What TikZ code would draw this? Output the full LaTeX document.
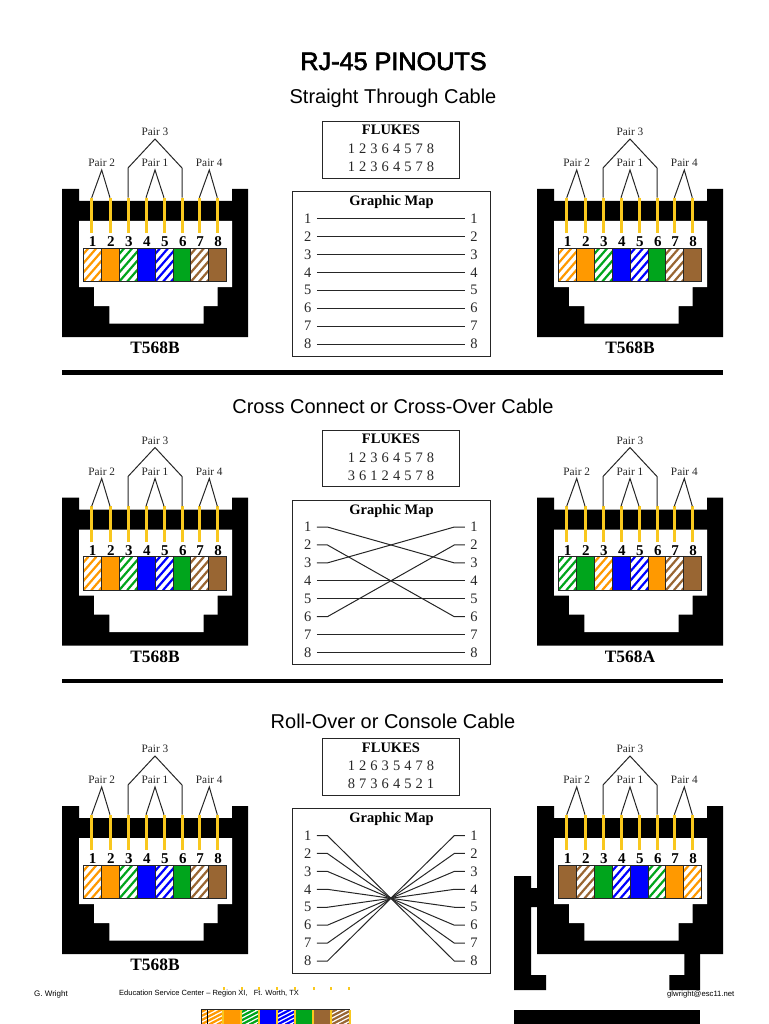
\documentclass[tikz,border=0pt]{standalone}
\usepackage{fontspec}
\setmainfont{Liberation Serif}
\setsansfont{Liberation Sans}
\newfontfamily\titlefont[FakeBold=2.5]{Liberation Sans}

\definecolor{wireorange}{HTML}{FF9900}
\definecolor{wiregreen}{HTML}{00A51C}
\definecolor{wireblue}{HTML}{0000FF}
\definecolor{wirebrown}{HTML}{996633}
\definecolor{pinyellow}{HTML}{F9C81E}

\tikzset{
	pairlabel/.style={font=\fontsize{11.3}{12}\selectfont,inner xsep=0pt,inner ysep=3pt,text=black!85},
	pinlabel/.style={font=\fontsize{15}{16}\selectfont\bfseries,inner sep=0pt},
	jacklabel/.style={font=\fontsize{17.4}{18}\selectfont\bfseries,inner sep=0pt},
	heading/.style={font=\fontsize{20}{22}\selectfont\sffamily,inner sep=0pt,anchor=base},
	boxhead/.style={font=\fontsize{14.5}{15}\selectfont\bfseries,inner sep=0pt,anchor=base},
	flukerow/.style={font=\fontsize{14.5}{15}\selectfont,inner sep=0pt,text=black!85},
	mapnum/.style={font=\fontsize{14.5}{15}\selectfont,inner sep=0pt,minimum width=18pt,text=black!85},
	footer/.style={font=\fontsize{8}{9}\selectfont\sffamily,inner sep=0pt},
	framebox/.style={draw=black!85,line width=1pt,inner sep=0pt},
	wire/.style={draw=black!85,line width=1pt},
	pairline/.style={draw=black!85,line width=1pt},
	pin/.style={draw=pinyellow,line width=3pt},
}

\newcommand{\flukedigits}[1]{\spaceskip=4.05pt\relax #1}

% x, y, width, height, colour, hatched
\newcommand{\swatch}[6]{
	\fill[white] (#1,#2) rectangle ++(#3,#4);
	\ifnum#6=1
		\begin{scope}
			\clip (#1,#2) rectangle ++(#3,#4);
			\foreach \d in {-32,-24,...,24}
				\draw[#5,line width=2.2pt] (#1+\d,#2+#4) -- ++(29,-#4);
		\end{scope}
	\else
		\fill[#5] (#1,#2) rectangle ++(#3,#4);
	\fi
	\draw[black!85,line width=0.8pt] (#1,#2) rectangle ++(#3,#4);
}

% name, x, y, colour/hatch list
\newcommand{\rjjack}[4]{
	\begin{scope}[shift={(#2,#3)}]
		\fill[black] (0,0) -- (17,0) -- (17,12) -- (170,12) -- (170,0) -- (186,0)
		  -- (186,148) -- (0,148) -- cycle; %body
		\fill[white] (17,32) -- (170,32) -- (170,98) -- (155.7,98) -- (155.7,117)
		  -- (141.7,117) -- (141.7,134.7) -- (47.3,134.7) -- (47.3,117) -- (32,117)
		  -- (32,98) -- (17,98) -- cycle; %opening
		\foreach \c/\h [count=\i from 0] in {#4} {
			\pgfmathsetmacro{\sx}{21.3+17.93*\i}
			\swatch{\sx}{59.3}{17.93}{33.4}{\c}{\h}
		}
		%pins
		\foreach \px [count=\i] in {29.7,48,66,84,102,120,137.3,155.3} {
			\coordinate (#1t\i) at (\px,8.7);
			\draw[pin] (#1t\i) -- (\px,44);
			\node[pinlabel] (#1n\i) at (\px+0.8,52.7) {\i};
		}
		%pair labels
		\node[pairlabel] (#1p2) at (39.7,-26) {Pair 2};
		\node[pairlabel] (#1p1) at (93,-26) {Pair 1};
		\node[pairlabel] (#1p4) at (147.3,-26) {Pair 4};
		\node[pairlabel] (#1p3) at (93,-57) {Pair 3};
		\draw[pairline] (#1t1) -- (#1p2.south) -- (#1t2);
		\draw[pairline] (#1t4) -- (#1p1.south) -- (#1t5);
		\draw[pairline] (#1t7) -- (#1p4.south) -- (#1t8);
		\draw[pairline] (#1t3) -- (66,-21) -- (#1p3.south) -- (120,-21) -- (#1t6);
	\end{scope}
}

% name, y offset, first row, second row, wiring
\newcommand{\cablemap}[5]{
	\begin{scope}[shift={(0,#2)}]
		\node[framebox,minimum width=137pt,minimum height=56.6pt] (#1fb) at (390.8,150) {};
		\node[boxhead] (#1ft) at (391,135) {FLUKES};
		\node[flukerow] (#1fa) at (391,149) {\flukedigits{#3}};
		\node[flukerow] (#1fc) at (391,167) {\flukedigits{#4}};
		\node[framebox,minimum width=197.6pt,minimum height=164.3pt] (#1gb) at (391.5,273.9) {};
		\node[boxhead] (#1gt) at (391.5,205.5) {Graphic Map};
		\foreach \i in {1,...,8} {
			\node[mapnum] (#1l\i) at (307.7,200.6+17.93*\i) {\i};
			\node[mapnum] (#1r\i) at (474,200.6+17.93*\i) {\i};
		}
		\foreach \lft/\rgt in {#5}
			\draw[wire] (#1l\lft.east) -- ++(10.5,0) -- ([xshift=-10.5pt]#1r\rgt.west) -- (#1r\rgt.west);
	\end{scope}
}

\begin{document}
\begin{tikzpicture}[x=1pt,y=-1pt]
	\useasboundingbox (0,0) rectangle (768,1024);

	%headings
	\node[heading,font=\fontsize{25.2}{27}\selectfont\titlefont] (title) at (393.5,70) {RJ-45 PINOUTS};
	\node[heading] (straight) at (393,103.5) {Straight Through Cable};
	\node[heading] (cross) at (393,413) {Cross Connect or Cross-Over Cable};
	\node[heading] (roll) at (393,728) {Roll-Over or Console Cable};

	%rules
	\fill[black] (62,370.3) rectangle (723,374.8);
	\fill[black] (62,678.8) rectangle (723,683.3);

	%left over jack, bottom right
	\fill[black] (514,876) -- (531,876) -- (531,888) -- (537,888) -- (537,907) -- (531,907)
	  -- (531,975) -- (546,975) -- (546,990) -- (514,990) -- cycle;
	\fill[black] (684.3,954) -- (700,954) -- (700,990) -- (669.3,990) -- (669.3,975)
	  -- (684.3,975) -- cycle;
	\fill[black] (514,1009.7) rectangle (700,1024);

	%jacks
	\rjjack{a}{62}{189}{wireorange/1,wireorange/0,wiregreen/1,wireblue/0,wireblue/1,wiregreen/0,wirebrown/1,wirebrown/0}
	\rjjack{b}{537}{189}{wireorange/1,wireorange/0,wiregreen/1,wireblue/0,wireblue/1,wiregreen/0,wirebrown/1,wirebrown/0}
	\rjjack{c}{62}{497.5}{wireorange/1,wireorange/0,wiregreen/1,wireblue/0,wireblue/1,wiregreen/0,wirebrown/1,wirebrown/0}
	\rjjack{d}{537}{497.5}{wiregreen/1,wiregreen/0,wireorange/1,wireblue/0,wireblue/1,wireorange/0,wirebrown/1,wirebrown/0}
	\rjjack{e}{62}{806}{wireorange/1,wireorange/0,wiregreen/1,wireblue/0,wireblue/1,wiregreen/0,wirebrown/1,wirebrown/0}
	\rjjack{f}{537}{806}{wirebrown/0,wirebrown/1,wiregreen/0,wireblue/1,wireblue/0,wiregreen/1,wireorange/0,wireorange/1}

	%jack labels
	\node[jacklabel] (alabel) at (155,348) {T568B};
	\node[jacklabel] (blabel) at (630,348) {T568B};
	\node[jacklabel] (clabel) at (155,657) {T568B};
	\node[jacklabel] (dlabel) at (630,657) {T568A};
	\node[jacklabel] (elabel) at (155,965) {T568B};

	%fluke boxes and maps
	\cablemap{s}{0}{1 2 3 6 4 5 7 8}{1 2 3 6 4 5 7 8}{1/1,2/2,3/3,4/4,5/5,6/6,7/7,8/8}
	\cablemap{x}{308.5}{1 2 3 6 4 5 7 8}{3 6 1 2 4 5 7 8}{1/3,2/6,3/1,4/4,5/5,6/2,7/7,8/8}
	\cablemap{o}{617}{1 2 6 3 5 4 7 8}{8 7 3 6 4 5 2 1}{1/8,2/7,3/6,4/5,5/4,6/3,7/2,8/1}

	%footer
	\node[footer,anchor=west] (author) at (34,994) {G. Wright};
	\node[footer,anchor=west,font=\fontsize{7.5}{9}\selectfont\sffamily] (center) at (119,994) {Education Service Center -- Region XI,\ \ \ Ft. Worth, TX};
	\node[footer,anchor=west,font=\fontsize{7.7}{9}\selectfont\sffamily] (mail) at (667,994) {glwright@esc11.net};

	%stray pins and strip at the foot of the page
	\foreach \px in {224,241.7,259.3,277.3,295.3,314,331,348.7}
		\fill[pinyellow] (\px-1,986.5) rectangle ++(2,3);
	\swatch{201}{1009.5}{21.5}{15}{wireorange}{1}
	\fill[black] (207,1009.5) rectangle (208,1024);
	\foreach \c/\h [count=\i from 0] in {wireorange/0,wiregreen/1,wireblue/0,wireblue/1,wiregreen/0,wirebrown/0,wirebrown/1} {
		\pgfmathsetmacro{\sx}{223.6+18*\i}
		\swatch{\sx}{1009.5}{18}{15}{\c}{\h}
	}
	\foreach \px in {223.3,241,259,277,295,313,331,349.5}
		\fill[pinyellow] (\px-1,1009.5) rectangle ++(2,14.5);
\end{tikzpicture}
\end{document}
